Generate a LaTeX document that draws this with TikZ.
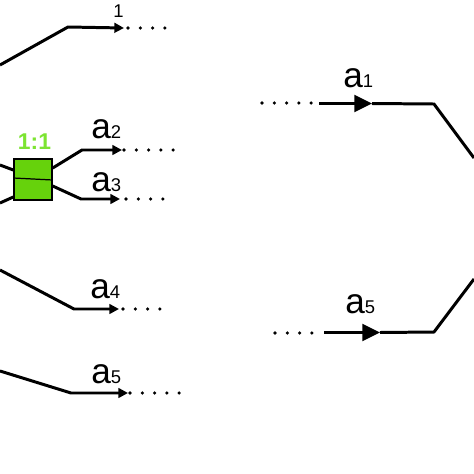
\documentclass[tikz,border=0pt]{standalone}
\usepackage{fontspec}
\setmainfont{Liberation Sans}
\usetikzlibrary{arrows.meta, positioning}
\definecolor{couplergreen}{RGB}{102,210,12}
\definecolor{ratiogreen}{RGB}{125,228,50}
\tikzset{
  fibre/.style={line width=1.7pt, color=black, line join=miter},
  outarrow/.style={fibre, -{Triangle[length=5.5pt, width=5.5pt]}},
  inarrow/.style={fibre, -{Triangle[length=10pt, width=9.5pt]}},
  dotline/.style={line width=2pt, line cap=round, dash pattern=on 0pt off 7pt},
  modelabel/.style={inner sep=0pt, anchor=base west, font=\fontsize{20}{22}\selectfont},
  coupler/.style={rectangle, draw=black, line width=0.8pt, fill=couplergreen,
                  minimum width=0.76cm, minimum height=0.82cm, inner sep=0pt},
}
\newcommand{\modesub}[1]{{\fontsize{10.5}{12}\selectfont #1}}

\begin{document}
\begin{tikzpicture}[x=0.02cm, y=-0.02cm]
    \useasboundingbox (0,0) rectangle (474,474);

    % left side: outputs
    \node[coupler] (split) at (33,179.5) {};
    \node[inner sep=0pt, above=0.17cm of split, xshift=0.03cm, text=ratiogreen,
          font=\fontsize{13}{15}\selectfont\bfseries] (ratio) {1:1};
    \draw[line width=0.7pt] ([yshift=0.03cm]split.west) -- ([yshift=-0.01cm]split.east);

    \coordinate (s1) at (0,65);
    \coordinate (b1) at (68,27);
    \coordinate (e1) at (124,28);
    \coordinate (d1) at (128,28);
    \coordinate (f1) at (168,28);
    \coordinate (s2) at (0,165);
    \coordinate (b2) at (82,150);
    \coordinate (e2) at (122,150);
    \coordinate (d2) at (124,150);
    \coordinate (f2) at (175,150);
    \coordinate (s3) at (0,203);
    \coordinate (b3) at (81,199);
    \coordinate (e3) at (120,199);
    \coordinate (d3) at (126,199);
    \coordinate (f3) at (166,199);
    \coordinate (s4) at (0,270);
    \coordinate (b4) at (74,309);
    \coordinate (e4) at (119,309);
    \coordinate (d4) at (123,309);
    \coordinate (f4) at (162,309);
    \coordinate (s5) at (0,371);
    \coordinate (b5) at (71,393);
    \coordinate (e5) at (128,393);
    \coordinate (d5) at (130,393);
    \coordinate (f5) at (181,393);

    \draw[outarrow] (s1) -- (b1) -- (e1);
    \draw[fibre] (s2) -- ([yshift=0.19cm]split.west);
    \draw[fibre] (s3) -- ([yshift=-0.35cm]split.west);
    \draw[outarrow] ([yshift=0.23cm]split.east) -- (b2) -- (e2);
    \draw[outarrow] ([yshift=-0.13cm]split.east) -- (b3) -- (e3);
    \draw[outarrow] (s4) -- (b4) -- (e4);
    \draw[outarrow] (s5) -- (b5) -- (e5);
    \foreach \n in {1,...,5}
      \draw[dotline] (d\n) -- (f\n);

    \node[inner sep=0pt, anchor=base west, font=\fontsize{10.5}{12}\selectfont] (out1) at (113,17) {1};
    \node[modelabel] (out2) at (91,138) {a\modesub{2}};
    \node[modelabel] (out3) at (91,191) {a\modesub{3}};
    \node[modelabel] (out4) at (90,298) {a\modesub{4}};
    \node[modelabel] (out5) at (91,383) {a\modesub{5}};

    % right side: inputs
    \coordinate (ia) at (319,103.5);
    \coordinate (ma) at (372,103.5);
    \coordinate (ba) at (434,104);
    \coordinate (ea) at (474,158);
    \coordinate (da) at (262,103);
    \coordinate (ga) at (314,103);
    \coordinate (ib) at (324,332.5);
    \coordinate (mb) at (380,332.5);
    \coordinate (bb) at (434,332);
    \coordinate (eb) at (474,279);
    \coordinate (db) at (275,333);
    \coordinate (gb) at (314,333);

    \draw[inarrow] (ia) -- (ma);
    \draw[fibre] (ma) -- (ba) -- (ea);
    \draw[inarrow] (ib) -- (mb);
    \draw[fibre] (mb) -- (bb) -- (eb);
    \draw[dotline] (da) -- (ga);
    \draw[dotline] (db) -- (gb);

    \node[modelabel] (in1) at (343,87) {a\modesub{1}};
    \node[modelabel] (in5) at (345,313) {a\modesub{5}};
\end{tikzpicture}
\end{document}
